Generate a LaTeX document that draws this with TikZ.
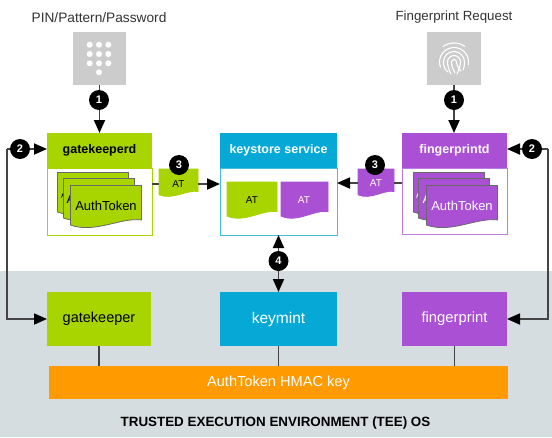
\documentclass[tikz,border=0pt]{standalone}
\usepackage{fontspec}
\setmainfont{Liberation Sans}
\usetikzlibrary{arrows.meta}
\definecolor{cgreen}{HTML}{A8D400}
\definecolor{cblue}{HTML}{06A9D6}
\definecolor{cpurple}{HTML}{AA50D4}
\definecolor{corange}{HTML}{FF9B00}
\definecolor{cbg}{HTML}{D6DDE1}
\definecolor{cgray}{HTML}{CCCCCC}
\definecolor{cline}{HTML}{444444}
\tikzset{
 box/.style={anchor=north west,inner sep=0pt,outer sep=0pt,text=black},
 conn/.style={draw=cline,line width=1.8pt},
 tipped/.style={conn,-{Triangle[length=13pt,width=11pt,color=black]}},
 both/.style={conn,{Triangle[length=13pt,width=11pt,color=black]}-{Triangle[length=13pt,width=11pt,color=black]}},
 badge/.style={circle,fill=black,text=white,inner sep=0pt,minimum size=20pt,font=\bfseries\fontsize{11}{11}\selectfont},
 lab/.style={font=\fontsize{13.3}{15}\selectfont,text=black!80,inner sep=0pt},
 hdr/.style={font=\bfseries\fontsize{12.5}{14}\selectfont,inner sep=0pt},
 sub/.style={font=\fontsize{13}{15}\selectfont,inner sep=0pt},
 teefont/.style={font=\fontsize{14.6}{16}\selectfont},
 atfont/.style={font=\fontsize{10}{12}\selectfont,inner sep=0pt},
 fpline/.style={draw=white,line width=1.1pt,line cap=round}
}
% x y w h (h to the lowest wave point), fill, draw
\newcommand{\docshape}[6]{%
 \path[fill=#5,draw=#6,line width=.8pt] (#1,#2) -- ++(#3,0) -- (#1+#3,#2+#4*.8)
   .. controls (#1+#3*.7,#2+#4*.74) and (#1+#3*.35,#2+#4*1.12) .. (#1,#2+#4*.92) -- cycle;}
\begin{document}
\begin{tikzpicture}[x=1pt,y=-1pt]
\useasboundingbox (0,0) rectangle (552,437);
\fill[white] (0,0) rectangle (552,437);
\fill[cbg] (0,271) rectangle (552,437);
% labels and input squares
\node[lab,font=\fontsize{13.7}{15}\selectfont] (pinlab) at (99,17.5) {PIN/Pattern/Password};
\node[lab] (fplab) at (454,17.5) {Fingerprint Request};
\node[box,fill=cgray,minimum width=53pt,minimum height=53pt] (pin) at (73,32) {};
\node[box,fill=cgray,minimum width=54pt,minimum height=53pt] (fpreq) at (427,32) {};
\foreach \px in {89.7,99,108.3}\foreach \py in {44.7,54,63.3}\fill[white] (\px,\py) circle (3pt);
\fill[white] (99,72.3) circle (3pt);
% fingerprint icon
\begin{scope}[shift={(454,60)}]
 \draw[fpline] (-10.9,-13.6) arc[start angle=125,end angle=55,radius=19pt];
 \draw[fpline] (-13.6,7) arc[start angle=200,end angle=-10,radius=14.5pt];
 \draw[fpline] (-6,12) .. controls (-9,10) and (-10.5,6) .. (-10.5,2) arc[start angle=180,end angle=0,radius=10.5pt] .. controls (10.5,5) and (10,8) .. (9,10);
 \draw[fpline] (-3,14) .. controls (-5,10) and (-6.5,6) .. (-6.5,2) arc[start angle=180,end angle=0,radius=6.5pt] .. controls (6.5,6) and (5,10) .. (3,14);
 \draw[fpline] (1,13) .. controls (-1,9) and (-2.5,6) .. (-2.5,2) arc[start angle=180,end angle=0,radius=2.5pt] .. controls (2.5,5) and (4,8) .. (7,11);
\end{scope}
% services
\node[box,draw=cgreen,fill=white,line width=.8pt,minimum width=105pt,minimum height=67pt] (gkbody) at (47,168) {};
\node[box,fill=cgreen,minimum width=105pt,minimum height=35pt,hdr] (gkhead) at (47,133) {gatekeeperd};
\node[box,draw=cblue!75,fill=white,line width=.8pt,minimum width=117pt,minimum height=67pt] (ksbody) at (220,168) {};
\node[box,fill=cblue,minimum width=117pt,minimum height=35pt,hdr,text=white] (kshead) at (220,133) {keystore service};
\node[box,draw=cpurple!75,fill=white,line width=.8pt,minimum width=105pt,minimum height=66pt] (fpbody) at (402,168) {};
\node[box,fill=cpurple,minimum width=105pt,minimum height=35pt,hdr,text=white] (fphead) at (402,133) {fingerprintd};
% token stacks: only the edge of the rear tokens' text shows
\docshape{57.5}{172.5}{71}{43}{cgreen}{cline!80}
\draw[black,line width=.8pt] (61.5,197.5) -- (63,193.5);
\docshape{63.5}{178.5}{71}{43}{cgreen}{cline!80}
\node[sub,anchor=west] (tokg2) at (66.5,199) {A};
\docshape{70.5}{185.5}{71}{43}{cgreen}{cline!80}
\node[sub] (tokg) at (106,206) {AuthToken};
\docshape{413.5}{172.5}{71}{43}{cpurple}{cline!80}
\draw[white,line width=.8pt] (416.5,197.5) -- (418,193.5);
\docshape{418.5}{178.5}{71}{43}{cpurple}{cline!80}
\node[sub,text=white,anchor=west] (tokp2) at (422.5,199) {A};
\docshape{426.5}{185.5}{71}{43}{cpurple}{cline!80}
\node[sub,text=white] (tokp) at (462,206) {AuthToken};
% tokens in keystore
\docshape{227}{182}{50}{37}{cgreen}{cgreen}
\node[atfont] (ksg) at (252,200) {AT};
\docshape{281}{182}{47}{37}{cpurple}{cpurple}
\node[atfont,text=white] (ksp) at (304,200) {AT};
% tokens in transit
\docshape{159}{169}{39}{28}{cgreen}{cgreen}
\node[box,atfont,minimum width=39pt,minimum height=26pt] (atg) at (159,171) {AT};
\docshape{358}{169}{36}{28}{cpurple}{cpurple}
\node[box,atfont,minimum width=36pt,minimum height=26pt,text=white] (atp) at (358,170) {AT};
% TEE blocks
\node[box,fill=cgreen,minimum width=104pt,minimum height=54pt,font=\fontsize{14.5}{16}\selectfont] (gk) at (47,292) {gatekeeper};
\node[box,fill=cblue,minimum width=117pt,minimum height=54pt,font=\fontsize{15.5}{17}\selectfont,text=white] (km) at (220,292) {keymint};
\node[box,fill=cpurple,minimum width=105pt,minimum height=54pt,font=\fontsize{14.8}{16}\selectfont,text=white] (fp) at (402,292) {fingerprint};
\node[box,fill=corange,minimum width=459pt,minimum height=33pt,teefont,text=white] (hmac) at (49,366) {AuthToken HMAC key};
\node[font=\bfseries\fontsize{13.4}{15}\selectfont,inner sep=0pt] (tee) at (275.5,423) {TRUSTED EXECUTION ENVIRONMENT (TEE) OS};
% free corners
\coordinate (cl) at (7,149);
\coordinate (cr) at (548,149);
% connectors
\draw[tipped] (pin.south) -- (pin.south |- gkhead.north);
\draw[tipped] (fpreq.south) -- (fpreq.south |- fphead.north);
\draw[conn] (gkbody.east |- atg.west) -- (atg.west);
\draw[tipped] (atg.east) -- (ksbody.west |- atg.east);
\draw[conn] (fpbody.west |- atp.east) -- (atp.east);
\draw[tipped] (atp.west) -- (ksbody.east |- atp.west);
\draw[both] (ksbody.south) -- (km.north);
\draw[tipped] (cl) -- (gkhead.west |- cl);
\draw[tipped] (cl) |- (gk.west);
\draw[tipped] (cr) -- (fphead.east |- cr);
\draw[tipped] (cr) |- (fp.east);
\draw[conn] (gk.south) -- (gk.south |- hmac.north);
\draw[conn] (km.south) -- (km.south |- hmac.north);
\draw[conn] (fp.south) -- (fp.south |- hmac.north);
% badges
\node[badge] (b1l) at (99,100) {1};
\node[badge] (b1r) at (454,100) {1};
\node[badge] (b2l) at (20,149) {2};
\node[badge] (b2r) at (532,149) {2};
\node[badge] (b3l) at (179,165) {3};
\node[badge] (b3r) at (375,165) {3};
\node[badge] (b4) at (278.5,261) {4};
\end{tikzpicture}
\end{document}
